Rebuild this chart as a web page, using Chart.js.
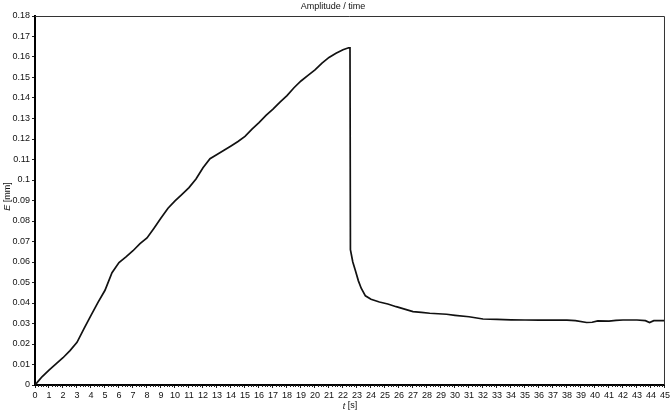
<!DOCTYPE html>
<html>
<head>
<meta charset="utf-8">
<script src="https://cdn.jsdelivr.net/npm/chart.js@4/dist/chart.umd.min.js"></script>
<style>
html,body{margin:0;padding:0;background:#fff;}
canvas{display:block;}
</style>
</head>
<body>
<canvas id="c" width="672" height="413" style="width:672px;height:413px"></canvas>
<script>
const chartTitle = 'Amplitude / time';
const xTitleVar = 't';
const xTitleUnit = ' [s]';
const yTitleVar = 'E';
const yTitleUnit = ' [mm]';

const timeValues = [0,0.25,0.5,1,1.5,2,2.5,3,3.5,4,4.5,5,5.5,6,6.5,7,7.5,8,8.5,9,9.5,10,10.5,11,11.5,12,12.5,13,13.5,14,14.5,15,15.5,16,16.5,17,17.5,18,18.5,19,19.5,20,20.5,21,21.5,22,22.4,22.5,22.53,22.7,22.9,23.1,23.3,23.6,24,24.6,25.2,25.8,26.4,27,27.6,28.2,29.4,30,31,32,33,34,35,36,37,38,38.6,39.4,39.8,40.2,41,41.5,42,43,43.6,43.9,44.2,45];
const amplitudeValues = [0,0.002,0.004,0.0072,0.0103,0.0133,0.0168,0.0208,0.0275,0.034,0.0403,0.0462,0.0548,0.0597,0.0625,0.0655,0.069,0.0717,0.0765,0.0815,0.0862,0.0898,0.093,0.0963,0.1005,0.106,0.1104,0.1124,0.1145,0.1166,0.1188,0.1213,0.1248,0.128,0.1315,0.1346,0.138,0.1412,0.145,0.1483,0.151,0.1537,0.157,0.1598,0.1618,0.1635,0.1645,0.1645,0.066,0.060,0.0555,0.0508,0.0472,0.0435,0.0418,0.0405,0.0395,0.0382,0.037,0.0358,0.0354,0.035,0.0345,0.034,0.0333,0.0322,0.032,0.0318,0.0317,0.0316,0.0317,0.0316,0.0314,0.0305,0.0306,0.0313,0.0312,0.0315,0.0317,0.0317,0.0314,0.0305,0.0314,0.0314];

const xMin = 0, xMax = 45, xStep = 1, xMinorStep = 0.2;
const yMin = 0, yMax = 0.18, yStep = 0.01;

const FONT = 'Liberation Sans, Arial, Helvetica, sans-serif';
const points = timeValues.map((t, i) => ({x: t, y: amplitudeValues[i]}));

const framePlugin = {
  id: 'frame',
  afterDraw(chart) {
    const {ctx, chartArea: a, scales} = chart;
    ctx.save();
    // frame top/right
    ctx.strokeStyle = '#333';
    ctx.lineWidth = 1;
    ctx.beginPath();
    ctx.moveTo(a.left, a.top + 0.5);
    ctx.lineTo(a.right - 0.5, a.top + 0.5);
    ctx.lineTo(a.right - 0.5, a.bottom);
    ctx.stroke();
    // minor x ticks
    const xs = scales.x;
    ctx.strokeStyle = '#222';
    ctx.lineWidth = 1;
    ctx.beginPath();
    const n = Math.round((xMax - xMin) / xMinorStep);
    for (let i = 0; i <= n; i++) {
      const v = xMin + i * xMinorStep;
      if (Math.abs(v - Math.round(v)) < 1e-6) continue;
      const px = Math.round(xs.getPixelForValue(v)) + 0.5;
      ctx.moveTo(px, a.bottom);
      ctx.lineTo(px, a.bottom + 2);
    }
    ctx.stroke();
    // axis titles with italic variable
    ctx.fillStyle = '#111';
    ctx.textBaseline = 'middle';
    const drawMixed = (cx, cy) => {
      ctx.font = 'italic 9px ' + FONT;
      const w1 = ctx.measureText(xTitleVarCur.v).width;
      ctx.font = '9px ' + FONT;
      const w2 = ctx.measureText(xTitleVarCur.u).width;
      const start = cx - (w1 + w2) / 2;
      ctx.textAlign = 'left';
      ctx.font = 'italic 9px ' + FONT;
      ctx.fillText(xTitleVarCur.v, start, cy);
      ctx.font = '9px ' + FONT;
      ctx.fillText(xTitleVarCur.u, start + w1, cy);
    };
    const xTitleVarCur = {v: xTitleVar, u: xTitleUnit};
    drawMixed((a.left + a.right) / 2, 406);
    xTitleVarCur.v = yTitleVar; xTitleVarCur.u = yTitleUnit;
    ctx.save();
    ctx.translate(7.5, (a.top + a.bottom) / 2 - 4);
    ctx.rotate(-Math.PI / 2);
    drawMixed(0, 0);
    ctx.restore();
    ctx.restore();
  }
};

new Chart(document.getElementById('c'), {
  type: 'scatter',
  data: {
    datasets: [{
      data: points,
      showLine: true,
      borderColor: '#111',
      borderWidth: 1.7,
      pointRadius: 0,
      tension: 0,
      fill: false
    }]
  },
  options: {
    responsive: false,
    animation: false,
    layout: {padding: {left: 0, right: 6, top: 0, bottom: 0}},
    plugins: {
      legend: {display: false},
      tooltip: {enabled: false},
      title: {
        display: true,
        text: chartTitle,
        color: '#111',
        font: {family: FONT, size: 9, weight: 'normal'},
        padding: {top: 1, bottom: 4.2}
      }
    },
    scales: {
      x: {
        type: 'linear',
        min: xMin, max: xMax,
        afterFit(s) { s.height = 28; },
        border: {display: true, color: '#000', width: 2},
        grid: {display: true, drawOnChartArea: false, drawTicks: true, tickLength: 3, color: '#222'},
        ticks: {stepSize: xStep, autoSkip: false, maxRotation: 0, padding: 2, color: '#111', font: {family: FONT, size: 9}}
      },
      y: {
        type: 'linear',
        min: yMin, max: yMax,
        afterFit(s) { s.width = 35; },
        border: {display: true, color: '#000', width: 2},
        grid: {display: true, drawOnChartArea: false, drawTicks: true, tickLength: 3, color: '#222'},
        ticks: {
          stepSize: yStep, autoSkip: false, padding: 2, color: '#111',
          font: {family: FONT, size: 9},
          callback: v => String(Number(v.toFixed(2)))
        }
      }
    }
  },
  plugins: [framePlugin]
});
</script>
</body>
</html>
